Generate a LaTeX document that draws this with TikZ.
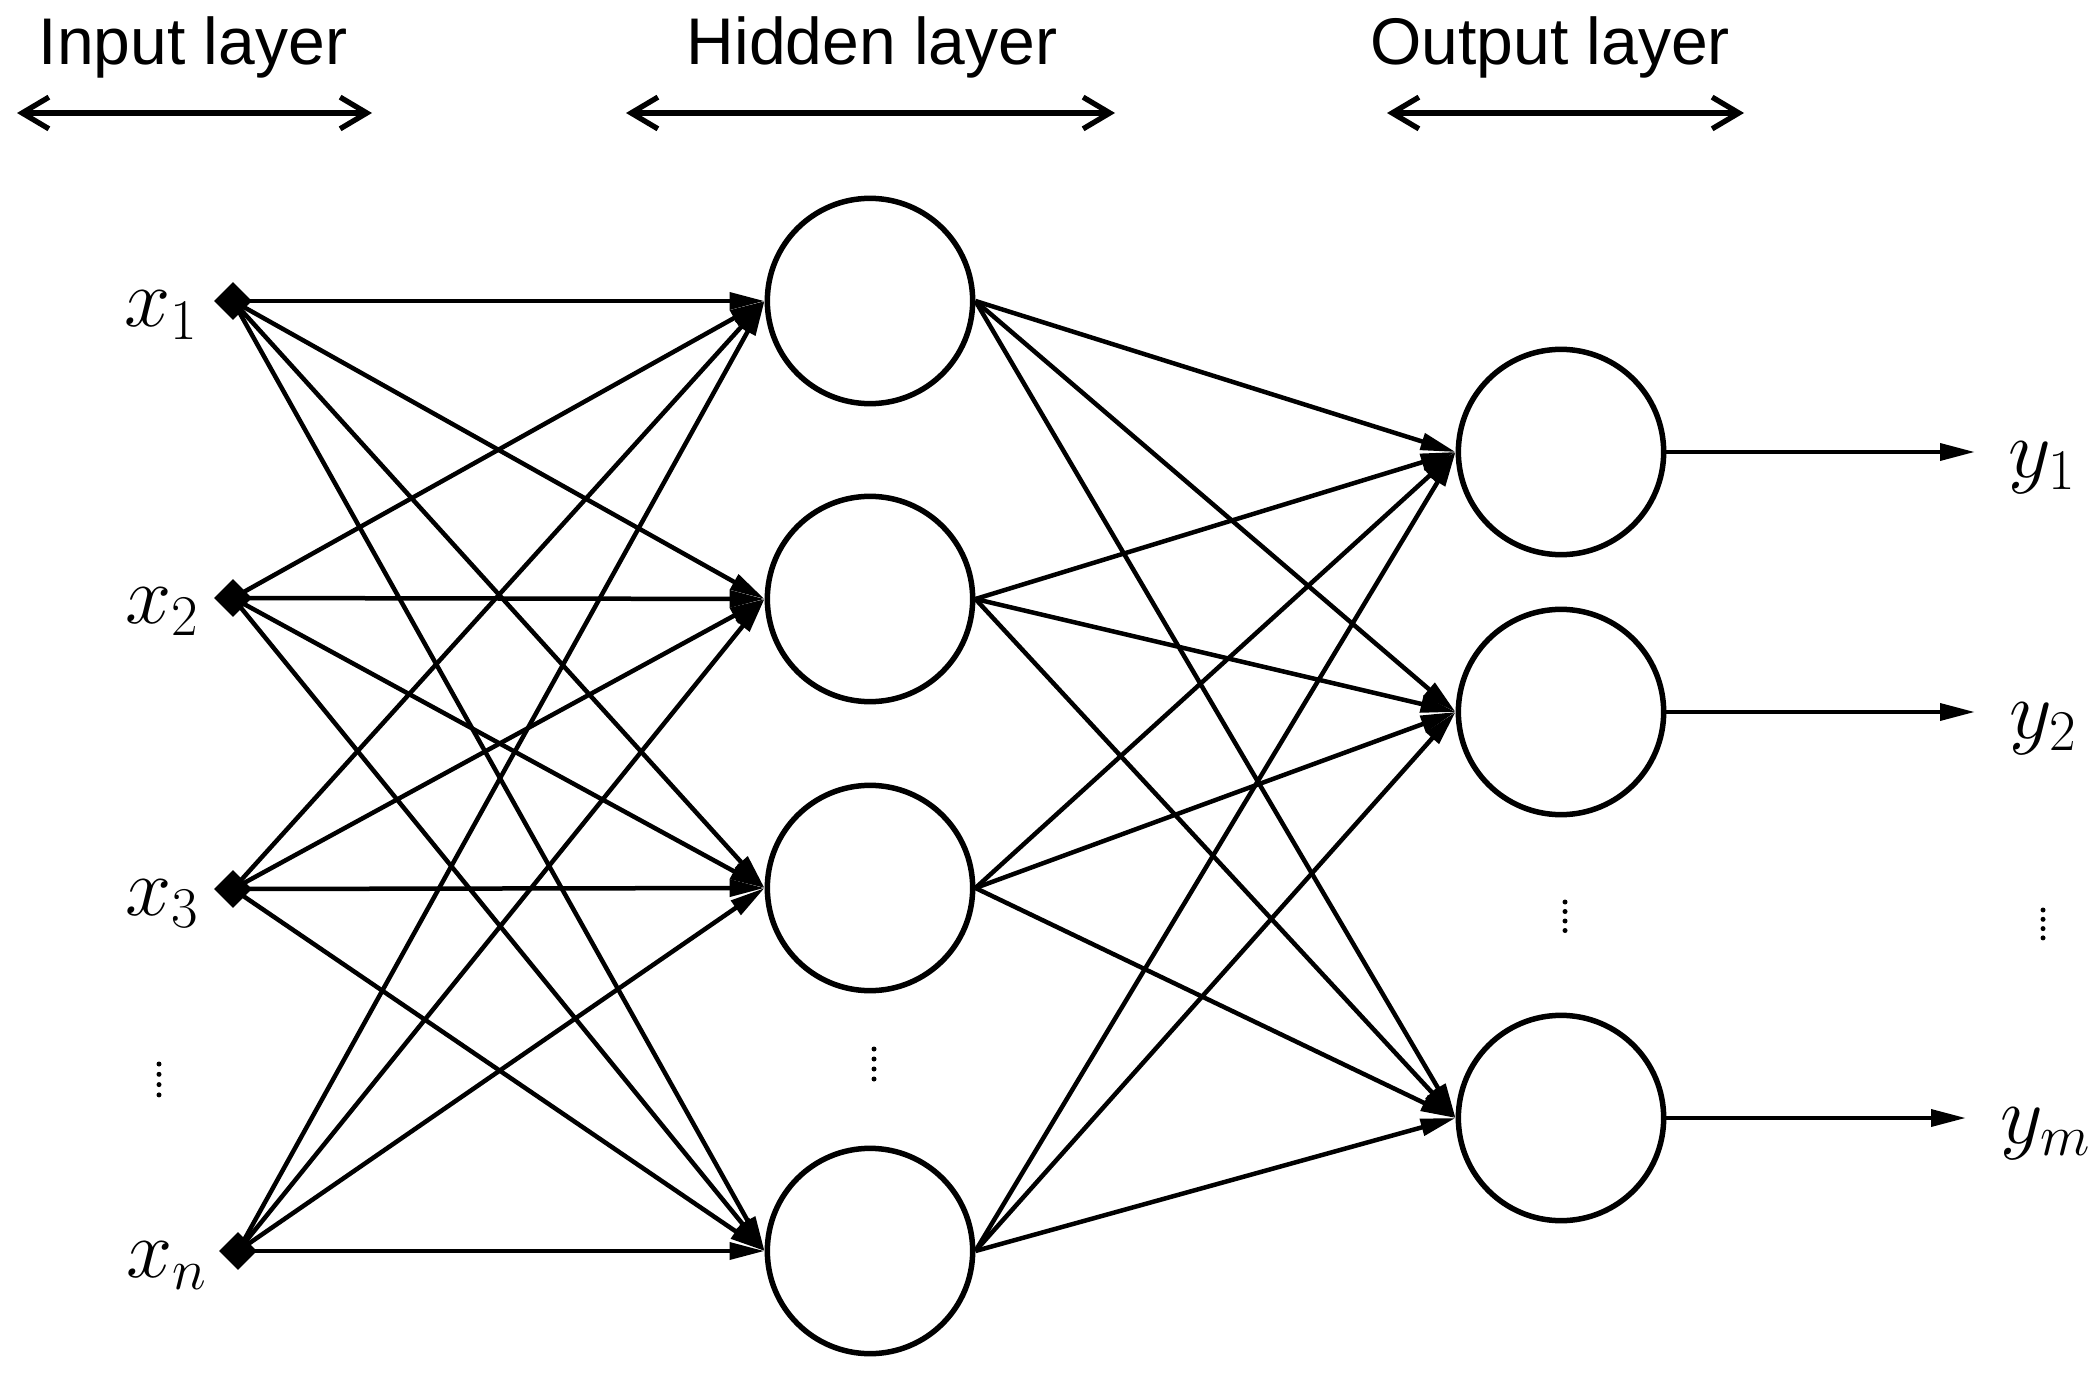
\documentclass[tikz,border=0pt]{standalone}
\usepackage{fontspec}
\newfontfamily\headfont{Liberation Sans}
\DeclareMathSizes{24.88}{24.88}{17.28}{12}
\usetikzlibrary{arrows.meta,shapes.geometric}
\begin{document}
\begin{tikzpicture}[x=0.3pt,y=-0.3pt,
  neuron/.style={circle,draw,line width=1.65pt,minimum size=61.6pt,inner sep=0pt},
  inp/.style={diamond,fill,inner sep=0pt,minimum size=11.5pt},
  conn/.style={line width=1.35pt,-{Triangle[length=10.5pt,width=5pt]}},
  layerspan/.style={line width=1.6pt,{Straight Barb[length=8pt,width=9.5pt]}-{Straight Barb[length=8pt,width=9.5pt]}},
  headtext/.style={font=\headfont\fontsize{19.8}{24}\selectfont,anchor=base,inner sep=0pt},
  mlabel/.style={font=\fontsize{24.88}{30}\selectfont,anchor=base west,inner sep=0pt}]
\useasboundingbox (0,0) rectangle (2099,1384);

% headings
\node[headtext] (tin) at (193,65) {Input layer};
\node[headtext] (thid) at (872,65) {Hidden layer};
\node[headtext] (tout) at (1550,65) {Output layer};
\coordinate (ainL) at (17,113);   \coordinate (ainR) at (372,113);
\coordinate (ahidL) at (626,113); \coordinate (ahidR) at (1115,113);
\coordinate (aoutL) at (1387,113);\coordinate (aoutR) at (1744,113);
\draw[layerspan] (ainL) -- (ainR);
\draw[layerspan] (ahidL) -- (ahidR);
\draw[layerspan] (aoutL) -- (aoutR);

% inputs
\node[inp] (x1) at (233,301) {};
\node[inp] (x2) at (233,598) {};
\node[inp] (x3) at (233,889) {};
\node[inp] (xn) at (238,1251) {};
\node[mlabel] (lx1) at (124,327) {$x_1$};
\node[mlabel] (lx2) at (125,623) {$x_2$};
\node[mlabel] (lx3) at (125,915) {$x_3$};
\node[mlabel] (lxn) at (126,1277) {$x_n$};

% hidden
\node[neuron] (h1) at (870,301) {};
\node[neuron] (h2) at (870,599) {};
\node[neuron] (h3) at (870,888) {};
\node[neuron] (h4) at (870,1251) {};

% outputs
\node[neuron] (o1) at (1561,452) {};
\node[neuron] (o2) at (1561,712) {};
\node[neuron] (o3) at (1561,1118) {};
\coordinate (e1) at (1975,452);
\coordinate (e2) at (1975,712);
\coordinate (e3) at (1966,1118);
\node[mlabel] (ly1) at (2008,477) {$y_1$};
\node[mlabel] (ly2) at (2009,738) {$y_2$};
\node[mlabel] (lym) at (2000,1143) {$y_m$};

% connections
\foreach \i in {x1,x2,x3,xn}
  \foreach \j in {h1,h2,h3,h4}
    \draw[conn] (\i.center) -- (\j.west);
\foreach \i in {h1,h2,h3,h4}
  \foreach \j in {o1,o2,o3}
    \draw[conn] (\i.east) -- (\j.west);
\draw[conn] (o1.east) -- (e1);
\draw[conn] (o2.east) -- (e2);
\draw[conn] (o3.east) -- (e3);

% vertical dots
\foreach \k in {0,1,2,3} {
  \fill (159,1064+\k*10.3) circle[radius=0.75pt];
  \fill (874,1049+\k*10) circle[radius=0.75pt];
  \fill (1565,902+\k*9.5) circle[radius=0.75pt];
  \fill (2043,910+\k*9.3) circle[radius=0.75pt];
}
\end{tikzpicture}
\end{document}
